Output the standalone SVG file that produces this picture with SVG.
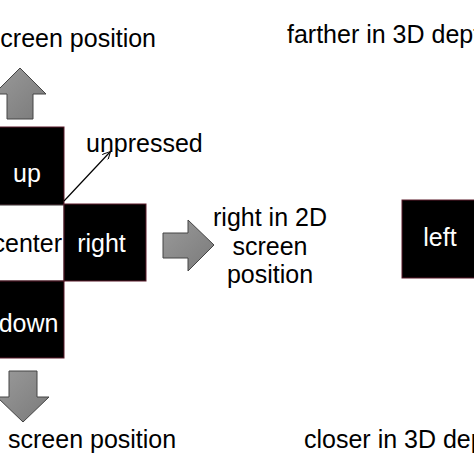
<svg xmlns="http://www.w3.org/2000/svg" width="474" height="474" viewBox="0 0 474 474">
<style>
text{font-family:"Liberation Sans",Arial,sans-serif;font-size:25px;fill:#000}
.w{fill:#fff}
.box{fill:#000;stroke:#5a1a2a;stroke-width:1}
.cbox{fill:#fff;stroke:#333;stroke-width:1}
.ga{fill:url(#g);stroke:#444;stroke-width:1}
</style>
<defs>
<linearGradient id="g" x1="0" y1="0" x2="1" y2="1">
<stop offset="0" stop-color="#9a9a9a"/>
<stop offset="1" stop-color="#7a7a7a"/>
</linearGradient>
<marker id="ah" viewBox="0 0 10 10" refX="9" refY="5" markerWidth="8" markerHeight="8" orient="auto" markerUnits="userSpaceOnUse">
<path d="M0,0 L10,5 L0,10" fill="none" stroke="#000" stroke-width="1.2"/>
</marker>
</defs>
<rect width="474" height="474" fill="#fff"/>
<g id="labels">
<text x="156" y="47" text-anchor="end">screen position</text>
<text x="287" y="43">farther in 3D depth</text>
<text x="8" y="448">screen position</text>
<text x="304" y="448">closer in 3D depth</text>
<text x="86" y="152">unpressed</text>
<text x="270" y="226" text-anchor="middle">right in 2D</text>
<text x="270" y="255" text-anchor="middle">screen</text>
<text x="270" y="283" text-anchor="middle">position</text>
</g>
<g id="node-up"><rect class="box" x="-18" y="127" width="82" height="78"/><text class="w" x="27" y="182" text-anchor="middle">up</text></g>
<g id="node-center"><rect class="cbox" x="-18" y="205" width="82" height="76"/><text x="62" y="252" text-anchor="end">center</text></g>
<g id="node-right"><rect class="box" x="64" y="204" width="82" height="77"/><text class="w" x="101.5" y="252" text-anchor="middle">right</text></g>
<g id="node-down"><rect class="box" x="-18" y="281" width="82" height="77"/><text class="w" x="28.5" y="332" text-anchor="middle">down</text></g>
<g id="node-left"><rect class="box" x="402" y="200" width="80" height="78"/><text class="w" x="440" y="246" text-anchor="middle">left</text></g>
<g id="connectors">
<path class="ga" d="M20,68 L46,94 L33,94 L33,119 L7,119 L7,94 L-6,94 Z"/>
<path class="ga" d="M9,371 L37,371 L37,397 L49,397 L23,422 L-3,397 L9,397 Z"/>
<path class="ga" d="M163,233 L188,233 L188,220 L214,245 L188,271 L188,258 L163,258 Z"/>
<line x1="64" y1="201" x2="110" y2="152" stroke="#000" stroke-width="1.2" marker-end="url(#ah)"/>
</g>
</svg>
